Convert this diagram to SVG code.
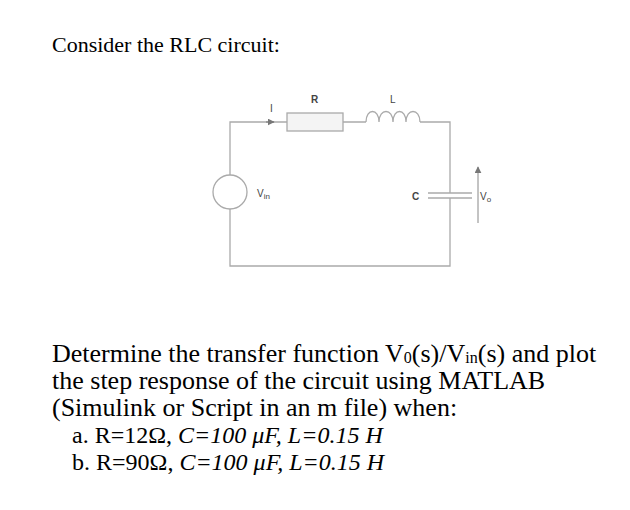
<svg xmlns="http://www.w3.org/2000/svg" width="630" height="510" viewBox="0 0 630 510">
<style>
.t{font-family:"Liberation Serif",serif;font-size:26px;fill:#000}
.s{font-family:"Liberation Sans",sans-serif;font-size:10px;fill:#444}
.w{fill:none;stroke:#aaa;stroke-width:1.3}
</style>
<defs><marker id="a" viewBox="0 0 10 10" refX="9" refY="5" markerWidth="7" markerHeight="7" orient="auto"><path d="M0,0L10,5L0,10z" fill="#777"/></marker></defs>
<rect width="630" height="510" fill="#fff"/>
<text class="t" x="52" y="52" style="font-size:22px">Consider the RLC circuit:</text>
<g id="connectors">
<path class="w" d="M230,175V122H287M343,122H366M420,122H450V193M450,198V266H230V209"/>
<path d="M266,122H274" stroke="#777" marker-end="url(#a)"/>
<path d="M478,223V167" stroke="#888" stroke-width="1" marker-end="url(#a)"/>
</g>
<g id="source"><circle class="w" cx="230" cy="192" r="17" fill="#fff"/><text class="s" x="257" y="197">V<tspan font-size="8" dy="2">in</tspan></text></g>
<g id="resistor"><rect x="287" y="113" width="56" height="18" fill="#f4f4f4" stroke="#aaa" stroke-width="1.3"/><text class="s" x="311" y="103" font-weight="bold">R</text></g>
<g id="inductor"><path class="w" d="M366,122c0,-14 13,-14 13,0c0,-14 14,-14 14,0c0,-14 13,-14 13,0c0,-14 14,-14 14,0"/><text class="s" x="390" y="103">L</text></g>
<g id="capacitor"><path class="w" d="M428,193H472M428,198H472"/><text class="s" x="412" y="200" font-weight="bold">C</text></g>
<g id="current"><text class="s" x="270" y="112">I</text></g>
<g id="vo"><text class="s" x="480" y="200">V<tspan font-size="8" dy="2">o</tspan></text></g>
<text class="t" x="52" y="362">Determine the transfer function V<tspan font-size="16" dy="1">0</tspan><tspan dy="-1">(s)/V</tspan><tspan font-size="16" dy="1">in</tspan><tspan dy="-1">(s) and plot</tspan></text>
<text class="t" x="52" y="389">the step response of the circuit using MATLAB</text>
<text class="t" x="52" y="416">(Simulink or Script in an m file) when:</text>
<text class="t" x="72" y="443" style="font-size:24px">a. R=12Ω, <tspan font-style="italic">C=100 μF, L=0.15 H</tspan></text>
<text class="t" x="72" y="470" style="font-size:24px">b. R=90Ω, <tspan font-style="italic">C=100 μF, L=0.15 H</tspan></text>
</svg>
